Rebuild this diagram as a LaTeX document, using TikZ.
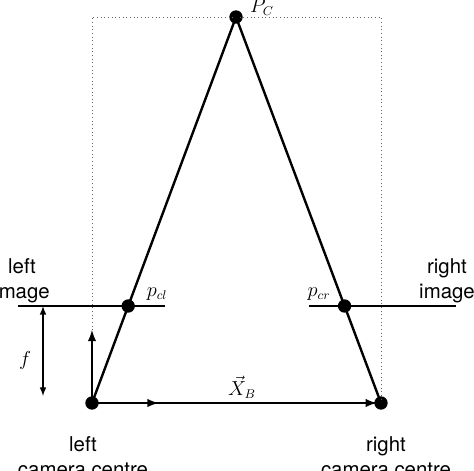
\documentclass[tikz,border=0pt]{standalone}
\usepackage{fontspec}
\setmainfont{TeX Gyre Heros}
\usetikzlibrary{arrows,decorations.markings,calc}
\tikzset{>=latex}
\tikzset{
  dot/.style={circle,fill=black,inner sep=0pt,minimum size=9.5pt},
  thickline/.style={line width=1.7pt},
  guide/.style={dotted,gray!80!black,line width=0.6pt},
  caption/.style={align=center,font=\fontsize{14.5}{18}\selectfont},
  mlabel/.style={font=\fontsize{13.5}{16}\selectfont}
}
\begin{document}
\begin{tikzpicture}[x=0.025cm,y=-0.025cm]
  \clip (0,0) rectangle (474,470);
  % Vertices
  \node[dot] (cl) at (92,403) {};
  \node[dot] (cr) at (381,403) {};
  \node[dot] (pc) at (236,17) {};
  \coordinate (tl) at (92,17);
  \coordinate (tr) at (381,17);
  \coordinate (up) at (92,330);
  \coordinate (il1) at (18,306);
  \coordinate (il2) at (165,306);
  \coordinate (ir1) at (309,306);
  \coordinate (ir2) at (456,306);
  \coordinate (f1) at (43,306);
  \coordinate (f2) at (43,396);
  \node[dot] (pcl) at (intersection of cl--pc and il1--il2) {};
  \node[dot] (pcr) at (intersection of cr--pc and ir1--ir2) {};

  % Lines
  \draw[guide] (up) -- (tl) -- (tr) -- (cr.center);
  \draw[thickline] (cl.center) -- (pc.center) -- (cr.center);
  \draw[thickline] (il1) -- (il2);
  \draw[thickline] (ir1) -- (ir2);
  \draw[thickline,->] (cl.center) -- (up);
  \draw[line width=1.1pt,<->] (f1) -- (f2);
  \draw[thickline,decoration={markings,mark=at position 0.23 with {\arrow{latex}},
    mark=at position 0.985 with {\arrow{latex}}},postaction={decorate}]
    (cl.center) -- (cr.center);

  % Labels
  \node[mlabel] (pcn) at (262,7) {$P_C$};
  \node[mlabel] (pcln) at (157,294) {$p_{cl}$};
  \node[mlabel] (pcrn) at (319,294) {$p_{cr}$};
  \node[mlabel] (fn) at (25,360) {$f$};
  \node[mlabel] (xbn) at (242,387) {$\vec{X}_B$};
  \node[caption] (li) at (22,281) {left\\image};
  \node[caption] (ri) at (447,281) {right\\image};
  \node[caption] (lc) at (83,457) {left\\camera centre};
  \node[caption] (rc) at (386,457) {right\\camera centre};
\end{tikzpicture}
\end{document}
